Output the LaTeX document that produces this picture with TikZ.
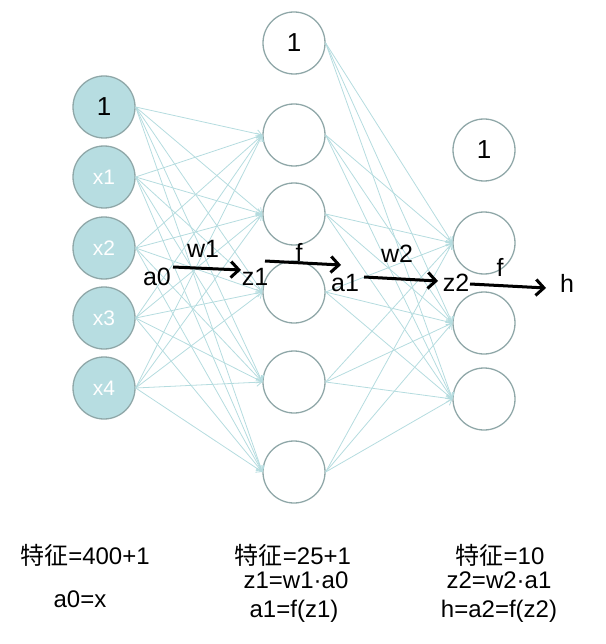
\documentclass[tikz,border=0pt]{standalone}
\usepackage{fontspec}
\setmainfont{Liberation Sans}
\newfontfamily\cjk{Noto Sans CJK SC}
\usetikzlibrary{arrows.meta}
\definecolor{tealfill}{HTML}{B7DDE1}
\definecolor{circborder}{HTML}{8FA7A8}
\definecolor{edgecol}{HTML}{B5DCDF}
\begin{document}
\begin{tikzpicture}[x=1pt,y=-1pt,
  neuron/.style={circle, draw=circborder, line width=1.3pt, minimum size=62pt, inner sep=0pt, font=\fontsize{26}{26}\selectfont},
  inneuron/.style={neuron, fill=tealfill, text=white, font=\fontsize{21}{21}\selectfont},
  edge/.style={draw=edgecol, line width=0.8pt, -{Straight Barb[length=5pt,width=8pt]}},
  bigarrow/.style={line width=3pt, -{Straight Barb[length=8pt,width=16pt,line width=3pt]}},
  lab/.style={font=\fontsize{25}{25}\selectfont, inner sep=0pt},
  bottom/.style={font=\fontsize{24}{24}\selectfont, inner sep=0pt}
]
\useasboundingbox (0,0) rectangle (605,644);
% input layer
\node[inneuron, text=black, font=\fontsize{26}{26}\selectfont] (i0) at (104,107) {1};
\node[inneuron] (i1) at (104,177) {x1};
\node[inneuron] (i2) at (104,248) {x2};
\node[inneuron] (i3) at (104,318) {x3};
\node[inneuron] (i4) at (104,388) {x4};
% hidden layer
\node[neuron] (h0) at (294,43) {1};
\node[neuron] (h1) at (294,135) {};
\node[neuron] (h2) at (294,214) {};
\node[neuron] (h3) at (294,292) {};
\node[neuron] (h4) at (294,382) {};
\node[neuron] (h5) at (294,472) {};
% output layer
\node[neuron] (o0) at (484,150) {1};
\node[neuron] (o1) at (484,243) {};
\node[neuron] (o2) at (484,323) {};
\node[neuron] (o3) at (484,399) {};
% edges
\foreach \i in {0,...,4} \foreach \j in {1,...,5} \draw[edge] (i\i.east) -- (h\j.west);
\foreach \i in {0,...,5} \foreach \j in {1,...,3} \draw[edge] (h\i.east) -- (o\j.west);
% labels
\node[lab] (a0) at (157,277) {a0};
\node[lab] (z1) at (255,277) {z1};
\node[lab] (w1) at (203,249) {w1};
\node[lab] (f1) at (299,252) {f};
\node[lab] (a1) at (345,283) {a1};
\node[lab] (w2) at (397,254) {w2};
\node[lab] (z2) at (456,283) {z2};
\node[lab] (f2) at (500,267) {f};
\node[lab] (h) at (567,283) {h};
% big arrows
\coordinate (p1) at (173,267); \coordinate (p2) at (241,270);
\coordinate (p3) at (265,261); \coordinate (p4) at (341,265);
\coordinate (p5) at (364,277); \coordinate (p6) at (438,281);
\coordinate (p7) at (470,284); \coordinate (p8) at (546,288);
\draw[bigarrow] (p1) -- (p2);
\draw[bigarrow] (p3) -- (p4);
\draw[bigarrow] (p5) -- (p6);
\draw[bigarrow] (p7) -- (p8);
% bottom text
\node[bottom] (t1) at (85,555) {{\cjk 特征}=400+1};
\node[bottom] (t2) at (80,599) {a0=x};
\node[bottom] (t3) at (293,555) {{\cjk 特征}=25+1};
\node[bottom] (t4) at (296,580) {z1=w1·a0};
\node[bottom] (t5) at (294,611) {a1=f(z1)};
\node[bottom] (t6) at (500,555) {{\cjk 特征}=10};
\node[bottom] (t7) at (499,580) {z2=w2·a1};
\node[bottom] (t8) at (499,611) {h=a2=f(z2)};
\end{tikzpicture}
\end{document}
